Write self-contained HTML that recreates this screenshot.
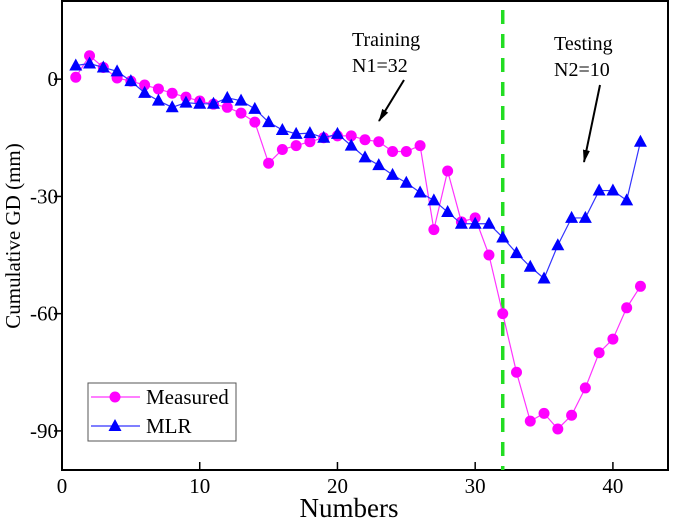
<!DOCTYPE html>
<html><head><meta charset="utf-8"><style>
body{margin:0;background:#fff}
svg{display:block;font-family:"Liberation Serif",serif}
</style></head><body>
<svg id="chart" width="685" height="524">
<defs>
<marker id="ah" markerWidth="14" markerHeight="10" refX="12" refY="5" orient="auto" markerUnits="userSpaceOnUse"><path d="M0,1.5 L13,5 L0,8.5 Z" fill="#000"/></marker>
</defs>
<g id="plot"></g>
</svg>
<script>
const xs = [1,2,3,4,5,6,7,8,9,10,11,12,13,14,15,16,17,18,19,20,21,22,23,24,25,26,27,28,29,30,31,32,33,34,35,36,37,38,39,40,41,42];
const measured = [0.5,6,3,0.3,-0.5,-1.5,-2.5,-3.6,-4.6,-5.6,-6.4,-7.2,-8.7,-11,-21.5,-18,-17,-16,-15,-14.5,-14.5,-15.5,-16,-18.5,-18.5,-17,-38.5,-23.5,-36.5,-35.5,-45,-60,-75,-87.5,-85.5,-89.5,-86,-79,-70,-66.5,-58.5,-53];
const mlr = [3.5,4,3,2,-0.5,-3.5,-5.5,-7.2,-6,-6.3,-6.3,-4.8,-5.5,-7.6,-11,-13,-14,-13.8,-15,-14,-17,-20,-22,-24.5,-26.5,-29,-31,-34,-37,-37,-37,-40.5,-44.5,-48,-51,-42.5,-35.5,-35.5,-28.5,-28.5,-31,-16];
const xTicks = [0,10,20,30,40];
const yTicks = [0,-30,-60,-90];
const splitX = 32;

const L=62,R=668,T=1,B=470, X0=0,X1=44, Y0=-100,Y1=20;
const sx=v=>L+(v-X0)/(X1-X0)*(R-L);
const sy=v=>B-(v-Y0)/(Y1-Y0)*(B-T);
const NS="http://www.w3.org/2000/svg";
const g=document.getElementById('plot');
function mk(tag,attrs,parent){const e=document.createElementNS(NS,tag);for(const k in attrs)e.setAttribute(k,attrs[k]);(parent||g).appendChild(e);return e;}

let fr=mk('rect',{x:L,y:T,width:R-L,height:B-T,fill:'none',stroke:'#000','stroke-width':2});



xTicks.forEach(v=>{
  const t=mk('line',{x1:sx(v),x2:sx(v),y1:B,y2:B-8,stroke:'#000','stroke-width':1.5});
  
  
  const tx=mk('text',{x:sx(v),y:B+23,'text-anchor':'middle','font-size':21});
  tx.textContent=v;
  
  
});
yTicks.forEach(v=>{
  const t=mk('line',{x1:L,x2:L-8,y1:sy(v),y2:sy(v),stroke:'#000','stroke-width':1.5});
  
  
  const tx=mk('text',{x:L-4,y:sy(v)+7,'text-anchor':'end','font-size':21});
  tx.textContent=v;
  
  
});

const sp=mk('line',{x1:sx(splitX),x2:sx(splitX),y1:10,y2:B,stroke:'#22dd22','stroke-width':3.5,'stroke-dasharray':'14,10'});



const ml=mk('polyline',{points:xs.map((x,i)=>sx(x)+','+sy(measured[i])).join(' '),fill:'none',stroke:'#ff33ff','stroke-width':1.2});


xs.forEach((x,i)=>{
  const c=mk('circle',{cx:sx(x),cy:sy(measured[i]),r:5.5,fill:'#ff00ff'});
  
  
});
const bl=mk('polyline',{points:xs.map((x,i)=>sx(x)+','+sy(mlr[i])).join(' '),fill:'none',stroke:'#3333ff','stroke-width':1.2});


xs.forEach((x,i)=>{
  const cx=sx(x),cy=sy(mlr[i]);
  const p=mk('polygon',{points:`${cx},${cy-7} ${cx-6.5},${cy+5} ${cx+6.5},${cy+5}`,fill:'#0000ff'});
  
  
});
</script>
<svg width="685" height="524" style="position:absolute;left:0;top:0;font-family:'Liberation Serif',serif">
  <text x="352" y="46" font-size="20">Training</text>
  <text x="352" y="72" font-size="20">N1=32</text>
  <line x1="404" y1="80" x2="379" y2="121" stroke="#000" stroke-width="2" marker-end="url(#ah)"/>
  <text x="554" y="50" font-size="20">Testing</text>
  <text x="554" y="76" font-size="20">N2=10</text>
  <line x1="600" y1="85" x2="584" y2="162" stroke="#000" stroke-width="2" marker-end="url(#ah)"/>
  <g>
    <rect x="88" y="383" width="148" height="58" fill="#fff" stroke="#555" stroke-width="1"/>
    <line x1="91" y1="397" x2="140" y2="397" stroke="#ff33ff" stroke-width="1.2"/>
    <circle cx="115" cy="397" r="5.5" fill="#ff00ff"/>
    <text x="146" y="404" font-size="21">Measured</text>
    <line x1="91" y1="426" x2="140" y2="426" stroke="#3333ff" stroke-width="1.2"/>
    <polygon points="115,419 108.5,431 121.5,431" fill="#0000ff"/>
    <text x="146" y="433" font-size="21">MLR</text>
  </g>
  <text x="349" y="517" font-size="27" text-anchor="middle">Numbers</text>
  <text transform="translate(20,236) rotate(-90)" font-size="21" text-anchor="middle">Cumulative GD (mm)</text>
</svg>
</body></html>
